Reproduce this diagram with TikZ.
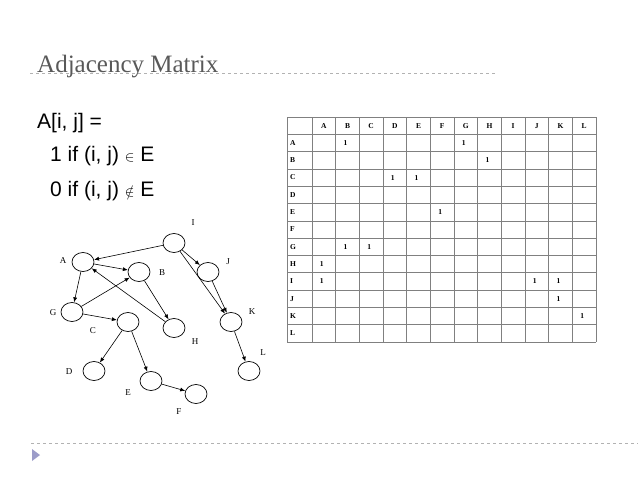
\documentclass[tikz,border=0pt]{standalone}
\usepackage{fontspec}
\setmainfont{Liberation Serif}
\newfontfamily\arial{Liberation Sans}
\usetikzlibrary{arrows.meta,shapes.geometric}
\begin{document}
\begin{tikzpicture}[x=1pt,y=-1pt,
  vert/.style={draw,ellipse,minimum width=22pt,minimum height=19pt,inner sep=0pt,line width=0.7pt},
  lbl/.style={font=\fontsize{9}{10}\selectfont},
  edge/.style={-{Latex[length=5pt,width=4pt]},line width=0.6pt},
  cell/.style={font=\fontsize{7.5}{8}\bfseries\selectfont,inner sep=0pt}]
\useasboundingbox (0,0) rectangle (638,479);
\draw[gray!60,dashed,line width=0.5pt] (30,73) -- (497,73);
\draw[gray!60,dashed,line width=0.5pt] (31,443) -- (638,443);
\fill[blue!30!gray!60] (32,449) -- (40,455) -- (32,461) -- cycle;
\node[anchor=base west,text=black!65,font=\fontsize{25}{28}\selectfont,inner sep=0pt] (title) at (37,72) {Adjacency Matrix};
\node[anchor=base west,font=\arial\fontsize{21}{24}\selectfont,inner sep=0pt] (t1) at (37,128) {A[i, j] =};
\node[anchor=base west,font=\arial\fontsize{21}{24}\selectfont,inner sep=0pt] (t2) at (50,161) {1 if (i, j) {\fontsize{14}{15}\selectfont$\in$} E};
\node[anchor=base west,font=\arial\fontsize{21}{24}\selectfont,inner sep=0pt] (t3) at (50,196) {0 if (i, j) {\fontsize{14}{15}\selectfont$\notin$} E};
% graph
\foreach \n/\x/\y in {I/174/243,A/83/262,B/139/272,J/208/272,G/72/312,C/128/322,H/174/328,K/231/322,D/94/371,E/151/381,F/196/394,L/249/371}
  \node[vert] (\n) at (\x,\y) {};
\foreach \n/\x/\y in {I/193/223,A/63/261,B/162/273,J/228/262,G/53/313,C/93/331,H/195/342,K/252/312,L/263/353,D/69/372,E/128/393,F/179/412}
  \node[lbl] (l\n) at (\x,\y) {\n};
\foreach \a/\b in {I/A,I/J,I/K,A/B,A/G,H/A,B/H,G/B,G/C,C/D,C/E,E/F,J/K,K/L}
  \draw[edge] (\a) -- (\b);
% matrix
\def\xa{287}\def\xb{312}\def\cw{23.67}\def\yt{117}\def\rh{17.3}
\foreach \i in {0,...,13} \draw[gray,line width=0.5pt] (\xa,\yt+\i*\rh) -- (596,\yt+\i*\rh);
\draw[gray,line width=0.5pt] (\xa,\yt) -- (\xa,\yt+13*\rh);
\foreach \j in {0,...,12} \draw[gray,line width=0.5pt] (\xb+\j*\cw,\yt) -- (\xb+\j*\cw,\yt+13*\rh);
\foreach \c [count=\k from 0] in {A,B,C,D,E,F,G,H,I,J,K,L}{
  \node[cell] (h\c) at (\xb+\k*\cw+\cw/2,\yt+\rh/2) {\c};
  \node[cell,anchor=west] (r\c) at (\xa+3,\yt+\k*\rh+1.5*\rh) {\c};}
\foreach \r/\c in {0/1,0/6,1/7,2/3,2/4,4/5,6/1,6/2,7/0,8/0,8/9,8/10,9/10,10/11}
  \node[cell] (m\r-\c) at (\xb+\c*\cw+\cw/2-2,\yt+\r*\rh+1.5*\rh) {1};
\end{tikzpicture}
\end{document}
